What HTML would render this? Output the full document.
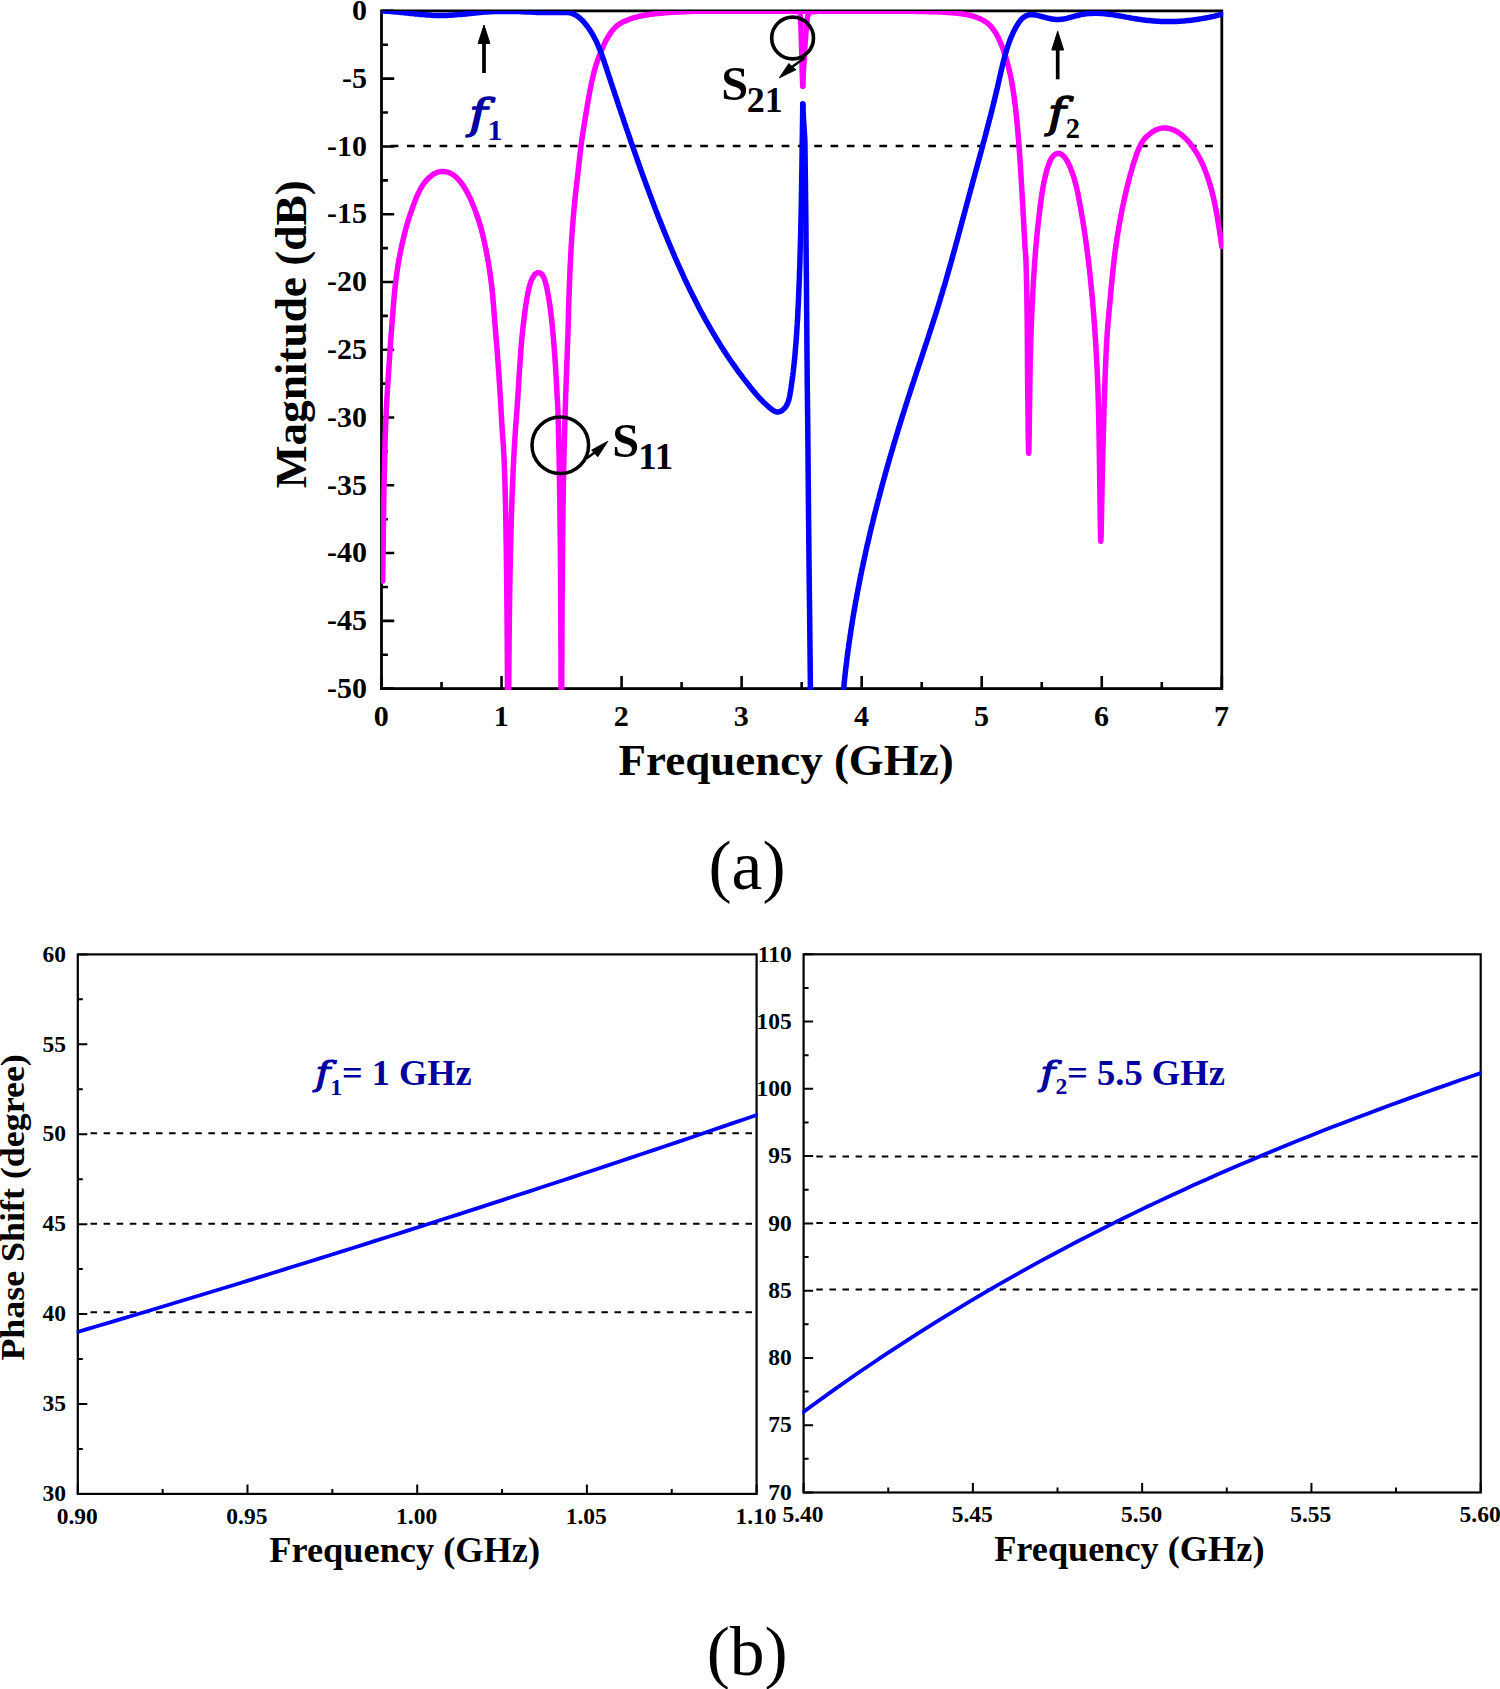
<!DOCTYPE html><html><head><meta charset="utf-8"><title>Figure</title><style>html,body{margin:0;padding:0;background:#fff}svg{display:block}</style></head><body><svg width="1500" height="1689" viewBox="0 0 1500 1689" role="img" aria-label="S-parameter magnitude and phase shift plots">
<defs>
<clipPath id="c1"><rect x="381.0" y="10.9" width="842.1999999999999" height="679.1"/></clipPath>
<clipPath id="c2"><rect x="76.7" y="954.4" width="681.0000000000001" height="539.5000000000001"/></clipPath>
<clipPath id="c3"><rect x="802.3000000000001" y="954.3" width="679.3000000000001" height="538.2"/></clipPath>
</defs>
<rect width="1500" height="1689" fill="#fff"/>
<g stroke="#000" fill="none">
<rect x="381.5" y="10.9" width="840.3" height="677.7" stroke-width="2.8"/>
<path d="M381.5 10.90h12.7M381.5 44.79h6.4M381.5 78.67h12.7M381.5 112.56h6.4M381.5 146.44h12.7M381.5 180.33h6.4M381.5 214.21h12.7M381.5 248.10h6.4M381.5 281.98h12.7M381.5 315.87h6.4M381.5 349.75h12.7M381.5 383.63h6.4M381.5 417.52h12.7M381.5 451.40h6.4M381.5 485.29h12.7M381.5 519.18h6.4M381.5 553.06h12.7M381.5 586.95h6.4M381.5 620.83h12.7M381.5 654.72h6.4M381.5 688.60h12.7M381.50 688.6v-12.5M441.52 688.6v-6.5M501.54 688.6v-12.5M561.56 688.6v-6.5M621.59 688.6v-12.5M681.61 688.6v-6.5M741.63 688.6v-12.5M801.65 688.6v-6.5M861.67 688.6v-12.5M921.69 688.6v-6.5M981.71 688.6v-12.5M1041.74 688.6v-6.5M1101.76 688.6v-12.5M1161.78 688.6v-6.5M1221.80 688.6v-12.5" stroke-width="2.6"/>
</g>
<path d="M390.7 146H1214" stroke="#000" stroke-width="2.6" stroke-dasharray="7.7 8.59" fill="none"/>
<g clip-path="url(#c1)" fill="none" stroke-width="5.5" stroke-linejoin="round" stroke-linecap="round">
<path d="M382.70 580.95L383.90 491.91L385.10 440.92L386.30 408.80L387.50 388.97L388.70 370.52L389.90 352.16L391.10 335.15L392.30 319.65L393.50 304.25L394.70 290.43L395.91 279.76L397.11 271.02L398.31 263.38L399.51 256.62L400.71 250.52L401.91 244.88L403.11 239.53L404.31 234.49L405.51 229.84L406.71 225.51L407.91 221.46L409.11 217.64L410.31 214.01L411.51 210.53L412.71 207.16L413.91 203.91L415.11 200.79L416.31 197.81L417.51 195.01L418.71 192.39L419.91 189.98L421.11 187.80L422.31 185.83L423.51 184.04L424.72 182.42L425.92 180.94L427.12 179.59L428.32 178.37L429.52 177.25L430.72 176.23L431.92 175.30L433.12 174.47L434.32 173.75L435.52 173.13L436.72 172.62L437.92 172.20L439.12 171.87L440.32 171.64L441.52 171.50L442.72 171.45L443.92 171.49L445.12 171.62L446.32 171.84L447.52 172.14L448.72 172.53L449.92 173.02L451.12 173.61L452.33 174.29L453.53 175.09L454.73 175.99L455.93 177.00L457.13 178.12L458.33 179.37L459.53 180.74L460.73 182.23L461.93 183.84L463.13 185.57L464.33 187.43L465.53 189.40L466.73 191.51L467.93 193.75L469.13 196.14L470.33 198.68L471.53 201.37L472.73 204.21L473.93 207.20L475.13 210.36L476.33 213.61L477.53 216.98L478.73 220.54L479.94 224.38L481.14 228.58L482.34 233.21L483.54 238.34L484.74 243.74L485.94 249.48L487.14 255.68L488.34 262.48L489.54 270.03L490.74 278.48L491.94 288.06L493.14 300.68L494.34 315.70L495.54 331.17L496.74 345.74L497.94 361.21L499.14 378.21L500.34 397.16L501.54 418.64L501.66 420.75L501.78 422.77L501.90 424.71L502.02 426.59L502.14 428.42L502.26 430.20L502.38 431.94L502.50 433.66L502.62 435.37L502.74 437.08L502.86 438.79L502.98 440.53L503.10 442.30L503.22 444.11L503.34 445.97L503.46 447.91L503.58 449.92L503.70 452.03L503.82 454.25L503.94 456.58L504.06 459.05L504.18 461.67L504.30 464.46L504.42 467.42L504.54 470.58L504.66 473.95L504.78 477.55L504.90 481.40L505.02 485.53L505.14 489.95L505.26 494.68L505.38 499.76L505.50 505.20L505.62 511.00L505.74 517.14L505.86 523.65L505.98 530.56L506.10 537.91L506.22 545.73L506.34 554.10L506.46 563.06L506.58 572.71L506.70 583.14L506.82 594.49L506.94 606.93L507.06 620.68L507.18 636.06L507.30 653.51L507.42 673.71L507.54 697.72L507.67 727.39L507.79 766.41L507.91 823.94L508.03 937.66L508.15 959.68L508.27 846.50L508.39 783.28L508.51 743.02L508.63 713.56L508.75 690.42L508.87 671.42L508.99 655.34L509.11 641.45L509.23 629.23L509.35 618.35L509.47 608.56L509.59 599.66L509.71 591.52L509.83 584.01L509.95 577.05L510.07 570.56L510.19 564.48L510.31 558.76L510.43 553.36L510.55 548.23L510.67 543.35L510.79 538.68L510.91 534.20L511.03 529.90L511.15 525.74L511.27 521.71L511.39 517.80L511.51 513.98L511.63 510.26L511.75 506.61L511.87 503.03L511.99 499.56L512.11 496.20L512.23 492.95L512.35 489.79L512.47 486.72L512.59 483.75L512.71 480.85L512.83 478.03L512.95 475.29L513.07 472.61L513.19 470.01L513.31 467.46L513.43 464.98L513.55 462.56L513.67 460.19L513.79 457.87L513.91 455.61L514.03 453.39L514.15 451.22L514.27 449.09L514.39 447.01L514.51 444.97L514.63 442.97L514.75 441.01L514.87 439.08L514.99 437.19L515.11 435.34L515.23 433.52L515.35 431.73L515.47 429.97L515.59 428.24L515.71 426.54L515.83 424.87L515.95 423.23L517.15 407.27L518.35 389.00L519.55 369.79L520.75 351.85L521.95 337.50L523.15 326.14L524.35 315.97L525.55 306.97L526.75 299.17L527.95 292.60L529.15 287.29L530.35 283.18L531.55 279.91L532.75 277.36L533.95 275.45L535.15 274.09L536.36 273.22L537.56 272.75L538.76 272.62L539.96 272.85L541.16 273.56L542.36 274.89L543.56 276.99L544.76 280.02L545.96 284.16L547.16 289.52L548.36 295.92L549.56 303.48L549.68 304.31L549.80 305.15L549.92 306.00L550.04 306.86L550.16 307.74L550.28 308.64L550.40 309.55L550.52 310.47L550.64 311.41L550.76 312.37L550.88 313.34L551.00 314.32L551.12 315.33L551.24 316.34L551.36 317.38L551.48 318.43L551.60 319.51L551.72 320.60L551.84 321.70L551.96 322.83L552.08 323.98L552.20 325.14L552.32 326.33L552.44 327.54L552.56 328.77L552.68 330.02L552.80 331.29L552.92 332.59L553.04 333.91L553.16 335.25L553.28 336.62L553.40 338.02L553.52 339.43L553.64 340.87L553.76 342.33L553.88 343.82L554.00 345.32L554.12 346.85L554.24 348.41L554.36 349.99L554.48 351.59L554.60 353.23L554.72 354.89L554.84 356.59L554.96 358.32L555.08 360.08L555.20 361.87L555.32 363.70L555.44 365.57L555.56 367.48L555.68 369.43L555.80 371.42L555.92 373.46L556.04 375.55L556.16 377.69L556.28 379.88L556.40 382.12L556.52 384.43L556.64 386.79L556.76 389.23L556.88 391.64L557.00 393.82L557.12 395.81L557.24 397.71L557.36 399.60L557.48 401.56L557.60 403.68L557.72 406.04L557.84 408.73L557.96 411.83L558.08 415.44L558.20 419.49L558.32 423.74L558.44 428.22L558.56 432.92L558.68 437.88L558.80 443.10L558.92 448.61L559.04 454.42L559.16 460.58L559.28 467.10L559.40 474.04L559.52 481.42L559.64 489.32L559.76 497.80L559.88 506.93L560.00 516.83L560.12 527.62L560.24 539.48L560.36 552.64L560.48 567.40L560.60 584.22L560.72 603.76L560.84 627.09L560.96 656.05L561.08 694.31L561.20 750.94L561.32 863.05L561.44 926.80L561.56 772.72L561.68 708.52L561.80 667.44L561.92 637.22L562.04 613.34L562.16 593.61L562.28 576.83L562.40 562.23L562.52 549.32L562.64 537.75L562.76 527.28L562.88 517.71L563.00 508.91L563.12 500.76L563.24 493.17L563.36 486.06L563.48 479.39L563.61 473.09L563.73 467.12L563.85 461.44L563.97 456.04L564.09 450.87L564.21 445.91L564.33 441.15L564.45 436.56L564.57 432.13L564.69 427.85L564.81 423.69L564.93 419.65L565.05 415.72L565.17 411.88L565.29 408.13L565.41 404.46L565.53 400.86L565.65 397.32L565.77 393.83L565.89 390.40L566.01 387.00L566.13 383.62L566.25 380.26L566.37 376.90L566.49 373.56L566.61 370.24L566.73 366.93L566.85 363.63L566.97 360.35L567.09 357.08L567.21 353.83L567.33 350.59L567.45 347.37L567.57 344.17L567.69 340.99L567.81 337.83L567.93 334.40L568.05 330.54L568.17 326.33L568.29 321.86L568.41 317.22L568.53 312.50L568.65 307.78L568.77 303.15L569.97 270.67L571.17 246.81L572.37 228.41L573.57 214.05L574.77 201.23L575.97 190.07L577.17 179.61L578.37 169.38L579.57 158.38L580.77 147.81L581.97 138.90L583.17 130.99L584.37 123.59L585.57 116.25L586.77 108.91L587.97 101.83L589.17 95.02L590.37 88.57L591.58 82.65L592.78 77.23L593.98 72.20L595.18 67.70L596.38 63.83L597.58 60.28L598.78 57.04L599.98 54.12L601.18 51.27L602.38 48.42L603.58 45.63L604.78 42.97L605.98 40.50L607.18 38.26L608.38 36.26L609.58 34.42L610.78 32.69L611.98 31.10L613.18 29.64L614.38 28.29L615.58 27.05L616.78 25.95L617.98 24.99L619.18 24.14L620.39 23.35L621.59 22.65L622.79 22.03L623.99 21.46L625.19 20.94L626.39 20.43L627.59 19.93L628.79 19.46L629.99 19.01L631.19 18.59L632.39 18.19L633.59 17.82L634.79 17.48L635.99 17.17L637.19 16.87L638.39 16.58L639.59 16.30L640.79 16.01L641.99 15.75L643.19 15.51L644.39 15.28L645.59 15.08L646.79 14.88L648.00 14.70L649.20 14.53L650.40 14.37L651.60 14.21L652.80 14.06L654.00 13.91L655.20 13.77L656.40 13.64L657.60 13.51L658.80 13.39L660.00 13.27L661.20 13.15L662.40 13.04L663.60 12.93L664.80 12.82L666.00 12.71L667.20 12.62L668.40 12.53L669.60 12.45L670.80 12.37L672.00 12.30L673.20 12.23L674.40 12.17L675.61 12.11L676.81 12.05L678.01 12.00L679.21 11.94L680.41 11.88L681.61 11.82L682.81 11.76L684.01 11.69L685.21 11.63L686.41 11.58L687.61 11.52L688.81 11.47L690.01 11.43L691.21 11.39L692.41 11.37L693.61 11.35L694.81 11.35L696.01 11.35L697.21 11.35L698.41 11.35L699.61 11.35L700.81 11.35L702.01 11.35L703.21 11.35L704.42 11.35L705.62 11.35L706.82 11.35L708.02 11.35L709.22 11.35L710.42 11.35L711.62 11.35L712.82 11.35L714.02 11.35L715.22 11.35L716.42 11.35L717.62 11.35L718.82 11.35L720.02 11.35L721.22 11.35L722.42 11.35L723.62 11.35L724.82 11.35L726.02 11.35L727.22 11.35L728.42 11.35L729.62 11.35L730.82 11.35L732.03 11.35L733.23 11.35L734.43 11.35L735.63 11.35L736.83 11.35L738.03 11.35L739.23 11.35L740.43 11.35L741.63 11.35L742.83 11.35L744.03 11.35L745.23 11.35L746.43 11.35L747.63 11.35L748.83 11.35L750.03 11.35L751.23 11.35L752.43 11.35L753.63 11.35L754.83 11.35L756.03 11.35L757.23 11.35L758.43 11.35L759.63 11.35L760.84 11.35L762.04 11.35L763.24 11.35L764.44 11.35L765.64 11.35L766.84 11.35L768.04 11.35L769.24 11.35L770.44 11.35L771.64 11.35L772.84 11.35L774.04 11.35L775.24 11.35L776.44 11.35L777.64 11.35L778.84 11.35L780.04 11.35L781.24 11.35L782.44 11.35L783.64 11.35L784.84 11.35L786.04 11.35L787.24 11.35L788.45 11.35L789.65 11.35L790.85 11.35L792.05 11.35L793.25 11.35L794.45 11.35L795.65 11.35L796.85 11.35L798.05 11.35L799.25 11.35L800.45 11.35L801.65 11.35L802.85 11.35L804.05 11.35L805.25 11.35L806.45 11.35L807.65 11.35L808.85 11.35L810.05 11.35L811.25 11.35L812.45 11.35L813.65 11.35L814.85 11.35L816.06 11.35L817.26 11.35L818.46 11.35L819.66 11.35L820.86 11.35L822.06 11.35L823.26 11.35L824.46 11.35L825.66 11.36L826.86 11.35L828.06 11.35L829.26 11.35L830.46 11.36L831.66 11.36L832.86 11.35L834.06 11.34L835.26 11.33L836.46 11.33L837.66 11.33L838.86 11.35L840.06 11.36L841.26 11.36L842.46 11.35L843.66 11.35L844.87 11.35L846.07 11.35L847.27 11.35L848.47 11.35L849.67 11.35L850.87 11.35L852.07 11.35L853.27 11.35L854.47 11.35L855.67 11.35L856.87 11.35L858.07 11.35L859.27 11.35L860.47 11.35L861.67 11.35L862.87 11.35L864.07 11.35L865.27 11.35L866.47 11.35L867.67 11.35L868.87 11.35L870.07 11.35L871.27 11.35L872.48 11.35L873.68 11.35L874.88 11.35L876.08 11.35L877.28 11.35L878.48 11.35L879.68 11.35L880.88 11.35L882.08 11.35L883.28 11.35L884.48 11.35L885.68 11.35L886.88 11.35L888.08 11.35L889.28 11.35L890.48 11.35L891.68 11.35L892.88 11.35L894.08 11.35L895.28 11.35L896.48 11.35L897.68 11.35L898.88 11.35L900.09 11.35L901.29 11.35L902.49 11.35L903.69 11.35L904.89 11.35L906.09 11.35L907.29 11.36L908.49 11.36L909.69 11.36L910.89 11.35L912.09 11.34L913.29 11.35L914.49 11.36L915.69 11.38L916.89 11.41L918.09 11.43L919.29 11.47L920.49 11.50L921.69 11.53L922.89 11.56L924.09 11.58L925.29 11.60L926.49 11.62L927.69 11.64L928.90 11.66L930.10 11.68L931.30 11.71L932.50 11.73L933.70 11.76L934.90 11.79L936.10 11.83L937.30 11.87L938.50 11.92L939.70 11.97L940.90 12.03L942.10 12.10L943.30 12.18L944.50 12.26L945.70 12.35L946.90 12.44L948.10 12.53L949.30 12.61L950.50 12.69L951.70 12.77L952.90 12.86L954.10 12.95L955.30 13.05L956.51 13.16L957.71 13.28L958.91 13.42L960.11 13.57L961.31 13.75L962.51 13.93L963.71 14.12L964.91 14.31L966.11 14.52L967.31 14.75L968.51 14.99L969.71 15.26L970.91 15.55L972.11 15.87L973.31 16.22L974.51 16.61L975.71 17.04L976.91 17.51L978.11 18.02L979.31 18.54L980.51 19.07L981.71 19.62L982.91 20.21L984.12 20.86L985.32 21.59L986.52 22.42L987.72 23.36L988.92 24.43L990.12 25.64L991.32 26.95L992.52 28.39L993.72 29.97L994.92 31.71L996.12 33.64L997.32 35.79L998.52 38.16L999.72 40.76L1000.92 43.56L1002.12 46.57L1003.32 49.79L1004.52 53.23L1005.72 56.97L1006.92 61.07L1008.12 65.59L1009.32 70.48L1010.52 75.73L1011.72 81.72L1012.93 88.84L1014.13 97.10L1015.33 106.40L1016.53 117.54L1017.73 130.59L1018.93 145.07L1020.13 161.80L1021.33 181.12L1022.53 201.95L1023.73 223.25L1024.93 245.37L1025.05 246.86L1025.17 248.30L1025.29 249.76L1025.41 251.29L1025.53 252.96L1025.65 254.82L1025.77 256.94L1025.89 259.39L1026.01 262.22L1026.13 265.50L1026.25 269.31L1026.37 273.70L1026.49 278.75L1026.61 284.53L1026.73 291.01L1026.85 298.16L1026.97 306.01L1027.09 314.59L1027.21 323.93L1027.33 334.73L1027.45 356.39L1027.57 377.68L1027.69 388.05L1027.81 397.96L1027.93 408.01L1028.05 418.03L1028.17 427.73L1028.29 436.70L1028.41 444.34L1028.53 449.98L1028.65 452.95L1028.70 453.30L1028.77 452.89L1028.89 449.84L1029.01 444.28L1029.13 436.89L1029.25 428.36L1029.37 419.29L1029.49 410.09L1029.61 401.03L1029.73 392.28L1029.85 383.94L1029.97 376.13L1030.09 369.14L1030.21 362.91L1030.33 357.36L1030.45 352.39L1030.57 347.90L1030.69 343.80L1030.81 339.99L1030.93 336.37L1031.05 332.85L1031.17 329.33L1031.29 325.83L1031.41 322.52L1031.53 319.40L1031.65 316.44L1031.77 313.63L1031.89 310.94L1032.01 308.37L1032.13 305.88L1033.33 283.40L1034.53 264.43L1035.73 248.69L1036.93 235.61L1038.13 224.20L1039.33 213.55L1040.54 203.80L1041.74 195.09L1042.94 187.59L1044.14 181.25L1045.34 175.79L1046.54 171.10L1047.74 167.08L1048.94 163.67L1050.14 160.84L1051.34 158.56L1052.54 156.78L1053.74 155.42L1054.94 154.45L1056.14 153.81L1057.34 153.46L1058.54 153.38L1059.74 153.58L1060.94 154.06L1062.14 154.81L1063.34 155.85L1064.54 157.18L1065.74 158.79L1066.94 160.69L1068.15 162.89L1069.35 165.38L1070.55 168.13L1071.75 171.20L1072.95 174.62L1074.15 178.43L1075.35 182.69L1076.55 187.46L1077.75 192.93L1078.95 199.00L1080.15 205.53L1081.35 212.37L1082.55 219.40L1083.75 226.81L1084.95 234.79L1086.15 243.26L1087.35 252.17L1088.55 261.65L1089.75 272.24L1090.95 283.93L1092.15 296.78L1093.35 310.50L1094.55 325.68L1095.76 344.22L1096.96 365.55L1097.08 368.07L1097.20 370.71L1097.32 373.49L1097.44 376.41L1097.56 379.51L1097.68 382.76L1097.80 386.06L1097.92 389.45L1098.04 392.99L1098.16 396.72L1098.28 400.71L1098.40 405.01L1098.52 409.67L1098.64 414.74L1098.76 420.29L1098.88 426.32L1099.00 432.79L1099.12 439.70L1099.24 447.07L1099.36 454.87L1099.48 463.08L1099.60 471.69L1099.72 480.62L1099.84 489.80L1099.96 499.07L1100.08 508.24L1100.20 517.03L1100.32 525.05L1100.44 531.88L1100.56 537.06L1100.68 540.24L1100.70 540.60L1100.80 541.23L1100.92 540.11L1101.04 537.15L1101.16 532.77L1101.28 527.40L1101.40 521.42L1101.52 515.13L1101.64 508.74L1101.76 502.41L1101.88 496.21L1102.00 490.20L1102.12 484.40L1102.24 478.82L1102.36 473.45L1102.48 468.27L1102.60 463.27L1102.72 458.43L1102.84 453.72L1102.96 449.12L1103.08 444.61L1103.20 440.17L1103.32 435.77L1103.44 431.40L1103.56 427.03L1103.68 422.65L1103.80 418.25L1103.92 413.94L1104.04 409.76L1104.16 405.68L1104.28 401.71L1104.40 397.85L1104.52 394.08L1104.64 390.41L1104.76 386.83L1104.88 383.34L1105.00 379.94L1105.12 376.61L1105.24 373.37L1105.36 370.21L1106.56 343.22L1107.76 325.50L1108.96 312.53L1110.16 299.52L1111.36 286.26L1112.56 273.91L1113.76 262.66L1114.96 252.77L1116.16 244.03L1117.36 236.13L1118.56 228.87L1119.76 222.05L1120.96 215.53L1122.16 209.33L1123.36 203.43L1124.57 197.84L1125.77 192.54L1126.97 187.53L1128.17 182.74L1129.37 178.12L1130.57 173.66L1131.77 169.39L1132.97 165.31L1134.17 161.43L1135.37 157.77L1136.57 154.34L1137.77 151.17L1138.97 148.26L1140.17 145.65L1141.37 143.36L1142.57 141.40L1143.77 139.71L1144.97 138.26L1146.17 136.99L1147.37 135.88L1148.57 134.88L1149.77 133.94L1150.97 133.02L1152.18 132.14L1153.38 131.36L1154.58 130.66L1155.78 130.04L1156.98 129.51L1158.18 129.06L1159.38 128.69L1160.58 128.39L1161.78 128.18L1162.98 128.05L1164.18 127.99L1165.38 128.01L1166.58 128.10L1167.78 128.26L1168.98 128.48L1170.18 128.77L1171.38 129.12L1172.58 129.55L1173.78 130.04L1174.98 130.60L1176.18 131.23L1177.38 131.94L1178.58 132.71L1179.78 133.56L1180.99 134.45L1182.19 135.40L1183.39 136.40L1184.59 137.48L1185.79 138.62L1186.99 139.85L1188.19 141.17L1189.39 142.58L1190.59 144.09L1191.79 145.70L1192.99 147.41L1194.19 149.17L1195.39 150.99L1196.59 152.89L1197.79 154.89L1198.99 157.02L1200.19 159.27L1201.39 161.68L1202.59 164.25L1203.79 167.02L1204.99 169.98L1206.19 173.13L1207.39 176.46L1208.60 180.01L1209.80 183.84L1211.00 187.97L1212.20 192.47L1213.40 197.37L1214.60 202.74L1215.80 208.73L1217.00 215.30L1218.20 222.42L1219.40 230.03L1220.60 238.09L1221.80 246.55" stroke="#ff00ff"/>
<path d="M788.0 11.3C789.5 11.4 795.1 11.3 797.0 11.4C798.9 11.6 798.8 11.4 799.4 12.3C800.0 13.2 800.1 11.6 800.5 17.0C800.9 22.4 801.2 35.3 801.5 45.0C801.8 54.7 802.1 68.2 802.3 75.0C802.5 81.8 802.7 84.2 802.8 86.0" stroke="#ff00ff"/>
<path d="M802.8 86.0C802.9 84.0 802.9 81.3 803.3 74.0C803.7 66.7 804.7 49.7 805.2 42.0C805.8 34.3 806.0 32.0 806.4 28.0C806.8 24.0 807.0 20.4 807.4 18.0C807.8 15.6 808.0 14.6 808.6 13.6C809.2 12.6 809.4 12.3 811.0 11.9C812.6 11.5 816.8 11.4 818.0 11.3" stroke="#ff00ff"/>
<path d="M381.5 11.0L383.9 11.1L386.3 11.2L388.7 11.3L391.1 11.5L393.5 11.7L395.9 11.9L398.3 12.1L400.7 12.4L403.1 12.6L405.5 12.9L407.9 13.1L410.3 13.4L412.7 13.6L415.1 13.9L417.5 14.1L419.9 14.4L422.4 14.6L424.8 14.8L427.2 15.0L429.6 15.1L432.0 15.3L434.4 15.4L436.8 15.5L439.2 15.5L441.6 15.5L444.0 15.5L446.4 15.4L448.8 15.3L451.2 15.2L453.6 15.0L456.0 14.8L458.4 14.6L460.8 14.4L463.2 14.2L465.6 13.9L468.0 13.7L470.4 13.4L472.8 13.2L475.2 12.9L477.6 12.7L480.0 12.5L482.4 12.3L484.8 12.1L487.2 11.9L489.6 11.8L492.1 11.7L494.5 11.6L496.9 11.5L499.3 11.4L501.7 11.4L504.1 11.4L506.5 11.4L508.9 11.4L511.3 11.5L513.8 11.5L516.2 11.6L518.6 11.6L521.0 11.7L523.4 11.8L525.7 11.9L528.1 12.0L530.5 12.1L532.9 12.2L535.3 12.3L537.7 12.4L540.1 12.4L542.5 12.5L544.9 12.6L547.3 12.6L549.7 12.6L552.2 12.6L554.6 12.6L557.1 12.6L559.6 12.5L562.1 12.4L564.6 12.3L567.1 12.4L569.4 12.7L571.7 13.4L573.9 14.2L575.9 15.3L577.9 16.6L579.7 18.0L581.5 19.6L583.2 21.3L584.8 23.2L586.3 25.1L587.8 27.0L589.2 29.0L590.5 31.0L591.8 33.0L593.0 35.1L594.1 37.2L595.2 39.3L596.3 41.4L597.3 43.6L598.2 45.8L599.2 48.0L600.1 50.3L600.9 52.5L601.8 54.8L602.6 57.1L603.4 59.3L604.2 61.6L604.9 63.9L605.7 66.2L606.5 68.5L607.2 70.8L608.0 73.1L608.7 75.4L609.5 77.7L610.3 80.0L611.0 82.3L611.8 84.6L612.5 86.9L613.3 89.2L614.1 91.5L614.8 93.8L615.6 96.1L616.4 98.4L617.1 100.7L617.9 103.0L618.6 105.3L619.4 107.6L620.2 109.8L620.9 112.1L621.7 114.4L622.5 116.7L623.3 119.0L624.0 121.3L624.8 123.6L625.6 125.8L626.3 128.1L627.1 130.4L627.9 132.7L628.7 135.0L629.5 137.2L630.2 139.5L631.0 141.8L631.8 144.1L632.6 146.3L633.4 148.6L634.2 150.9L635.0 153.2L635.8 155.4L636.6 157.7L637.4 160.0L638.2 162.2L639.0 164.5L639.8 166.8L640.6 169.0L641.4 171.3L642.2 173.6L643.0 175.8L643.8 178.1L644.7 180.4L645.5 182.6L646.3 184.9L647.2 187.1L648.0 189.4L648.8 191.6L649.7 193.9L650.5 196.2L651.4 198.4L652.2 200.7L653.1 202.9L653.9 205.2L654.8 207.4L655.6 209.7L656.5 211.9L657.4 214.2L658.2 216.4L659.1 218.7L660.0 220.9L660.9 223.1L661.8 225.4L662.7 227.6L663.6 229.9L664.5 232.1L665.4 234.3L666.3 236.6L667.2 238.8L668.1 241.0L669.1 243.3L670.0 245.5L670.9 247.7L671.9 249.9L672.8 252.2L673.8 254.4L674.7 256.6L675.7 258.8L676.6 261.0L677.6 263.2L678.6 265.4L679.6 267.6L680.6 269.8L681.6 272.0L682.6 274.2L683.6 276.4L684.6 278.6L685.6 280.8L686.7 283.0L687.7 285.2L688.8 287.3L689.8 289.5L690.9 291.7L691.9 293.8L693.0 296.0L694.1 298.1L695.2 300.3L696.3 302.4L697.4 304.6L698.5 306.7L699.6 308.9L700.7 311.0L701.9 313.1L703.0 315.2L704.2 317.3L705.3 319.5L706.5 321.6L707.7 323.7L708.9 325.8L710.1 327.8L711.3 329.9L712.5 332.0L713.7 334.1L715.0 336.1L716.2 338.2L717.4 340.3L718.7 342.3L720.0 344.4L721.3 346.4L722.6 348.4L723.9 350.5L725.2 352.5L726.5 354.5L727.8 356.5L729.2 358.5L730.5 360.5L731.9 362.5L733.3 364.4L734.7 366.4L736.1 368.4L737.5 370.3L738.9 372.3L740.3 374.2L741.8 376.2L743.2 378.1L744.7 380.0L746.2 381.9L747.7 383.8L749.2 385.7L750.7 387.6L752.2 389.5L753.7 391.4L755.3 393.2L756.9 395.1L758.5 396.9L760.1 398.7L761.8 400.4L763.5 402.2L765.3 403.8L767.1 405.5L768.9 407.1L770.8 408.7L772.7 410.1L774.7 411.3L776.6 412.0L778.6 412.0L780.5 411.4L782.3 410.3L784.0 408.8L785.6 406.9L786.9 404.8L787.9 402.5L788.7 400.2L789.3 397.9L789.8 395.5L790.2 393.0L790.6 390.6L791.0 388.2L791.3 385.8L791.7 383.3L792.0 380.9L792.3 378.5L792.7 376.1L793.0 373.7L793.3 371.3L793.5 368.9L793.8 366.5L794.1 364.1L794.3 361.6L794.6 359.2L794.8 356.8L795.0 354.4L795.2 352.0L795.4 349.6L795.6 347.2L795.8 344.8L796.0 342.4L796.2 340.0L796.4 337.6L796.5 335.2L796.7 332.8L796.8 330.4L797.0 328.0L797.1 325.6L797.3 323.2L797.4 320.9L797.6 318.5L797.7 316.1L797.8 313.7L797.9 311.3L798.0 308.9L798.2 306.5L798.3 304.1L798.4 301.7L798.5 299.3L798.6 296.8L798.7 294.4L798.8 292.0L798.9 289.6L799.0 287.2L799.1 284.8L799.2 282.4L799.3 280.0L799.4 277.6L799.4 275.2L799.5 272.8L799.6 270.4L799.7 268.0L799.8 265.6L799.9 263.2L799.9 260.7L800.0 258.3L800.1 255.9L800.1 253.5L800.2 251.1L800.3 248.7L800.3 246.3L800.4 243.9L800.5 241.5L800.5 239.0L800.6 236.6L800.7 234.2L800.7 231.8L800.8 229.4L800.8 227.0L800.9 224.6L800.9 222.1L801.0 219.7L801.0 217.3L801.1 214.9L801.1 212.5L801.2 210.1L801.2 207.7L801.3 205.3L801.3 202.8L801.4 200.4L801.4 198.0L801.4 195.6L801.5 193.2L801.5 190.8L801.6 188.4L801.6 185.9L801.6 183.5L801.7 181.1L801.7 178.7L801.7 176.3L801.8 173.9L801.8 171.5L801.9 169.0L801.9 166.6L801.9 164.2L802.0 161.8L802.0 159.4L802.0 157.0L802.1 154.6L802.1 152.2L802.1 149.8L802.2 147.3L802.2 144.9L802.2 142.5L802.3 140.1L802.3 137.7L802.3 135.3L802.4 132.9L802.4 130.5L802.4 128.1L802.5 125.7L802.5 123.3L802.6 120.9L802.6 118.5L802.6 116.0L802.7 113.6L802.7 111.2L802.7 108.8L802.8 106.4L802.8 104.0" stroke="#0000ff"/>
<path d="M802.8 104.0C802.9 107.5 803.5 118.7 803.9 125.0C804.2 131.3 804.6 132.8 804.9 142.0C805.1 151.2 805.2 166.5 805.4 180.0C805.6 193.5 805.7 209.7 805.9 223.0C806.0 236.3 806.1 250.5 806.2 260.0C806.3 269.5 806.3 266.3 806.4 280.0C806.5 293.7 806.8 325.7 806.9 342.0C807.0 358.3 807.1 363.3 807.2 378.0C807.4 392.7 807.6 409.7 807.8 430.0C808.0 450.3 808.2 476.7 808.4 500.0C808.6 523.3 808.9 548.3 809.1 570.0C809.3 591.7 809.6 610.3 809.8 630.0C810.0 649.7 810.3 676.3 810.4 688.0C810.5 699.7 810.6 698.0 810.6 700.0" stroke="#0000ff"/>
<path d="M842.6 700.0L842.8 698.1L842.9 696.3L843.1 694.5L843.3 692.7L843.4 690.9L843.6 689.1L843.8 687.2L844.0 685.4L844.1 683.6L844.3 681.8L844.5 680.0L844.7 678.2L844.9 676.4L845.1 674.5L845.3 672.7L845.5 670.9L845.7 669.1L845.9 667.3L846.2 665.5L846.4 663.7L846.6 661.9L846.8 660.1L847.0 658.2L847.3 656.4L847.5 654.6L847.7 652.8L848.0 651.0L848.2 649.2L848.5 647.4L848.7 645.6L849.0 643.8L849.2 642.0L849.5 640.2L849.8 638.4L850.0 636.6L850.3 634.8L850.6 633.0L850.8 631.2L851.1 629.4L851.4 627.6L851.7 625.8L852.0 624.0L852.3 622.2L852.5 620.4L852.8 618.6L853.1 616.8L853.4 615.0L853.7 613.2L854.0 611.4L854.4 609.6L854.7 607.8L855.0 606.0L855.3 604.2L855.6 602.4L855.9 600.6L856.3 598.8L856.6 597.0L856.9 595.2L857.3 593.4L857.6 591.6L857.9 589.9L858.3 588.1L858.6 586.3L859.0 584.5L859.3 582.7L859.7 580.9L860.0 579.1L860.4 577.3L860.7 575.5L861.1 573.8L861.5 572.0L861.8 570.2L862.2 568.4L862.6 566.6L863.0 564.8L863.3 563.0L863.7 561.3L864.1 559.5L864.5 557.7L864.9 555.9L865.3 554.1L865.6 552.4L866.0 550.6L866.4 548.8L866.8 547.0L867.2 545.2L867.6 543.5L868.1 541.7L868.5 539.9L868.9 538.1L869.3 536.3L869.7 534.6L870.1 532.8L870.5 531.0L871.0 529.2L871.4 527.5L871.8 525.7L872.3 523.9L872.7 522.2L873.1 520.4L873.6 518.6L874.0 516.8L874.4 515.1L874.9 513.3L875.3 511.5L875.8 509.8L876.2 508.0L876.7 506.2L877.1 504.5L877.6 502.7L878.0 500.9L878.5 499.2L879.0 497.4L879.4 495.6L879.9 493.9L880.4 492.1L880.8 490.3L881.3 488.6L881.8 486.8L882.2 485.0L882.7 483.3L883.2 481.5L883.7 479.8L884.2 478.0L884.7 476.2L885.1 474.5L885.6 472.7L886.1 471.0L886.6 469.2L887.1 467.5L887.6 465.7L888.1 463.9L888.6 462.2L889.1 460.4L889.6 458.7L890.1 456.9L890.6 455.2L891.1 453.4L891.7 451.7L892.2 449.9L892.7 448.2L893.2 446.4L893.7 444.7L894.2 442.9L894.8 441.2L895.3 439.4L895.8 437.7L896.3 435.9L896.9 434.2L897.4 432.4L897.9 430.7L898.4 428.9L899.0 427.2L899.5 425.5L900.1 423.7L900.6 422.0L901.1 420.2L901.7 418.5L902.2 416.7L902.8 415.0L903.3 413.3L903.9 411.5L904.4 409.8L905.0 408.0L905.5 406.3L906.1 404.6L906.6 402.8L907.2 401.1L907.7 399.4L908.3 397.6L908.9 395.9L909.4 394.2L910.0 392.4L910.5 390.7L911.1 389.0L911.7 387.2L912.2 385.5L912.8 383.8L913.4 382.0L914.0 380.3L914.5 378.6L915.1 376.8L915.7 375.1L916.2 373.4L916.8 371.7L917.4 369.9L918.0 368.2L918.5 366.5L919.1 364.7L919.7 363.0L920.3 361.3L920.8 359.5L921.4 357.8L922.0 356.1L922.6 354.4L923.1 352.6L923.7 350.9L924.3 349.2L924.8 347.4L925.4 345.7L926.0 344.0L926.6 342.3L927.1 340.5L927.7 338.8L928.3 337.1L928.8 335.3L929.4 333.6L930.0 331.9L930.5 330.1L931.1 328.4L931.6 326.7L932.2 324.9L932.8 323.2L933.3 321.5L933.9 319.7L934.4 318.0L935.0 316.3L935.5 314.5L936.1 312.8L936.6 311.1L937.2 309.3L937.7 307.6L938.3 305.8L938.8 304.1L939.3 302.4L939.9 300.6L940.4 298.9L940.9 297.1L941.4 295.4L942.0 293.6L942.5 291.9L943.0 290.1L943.5 288.4L944.0 286.7L944.6 284.9L945.1 283.2L945.6 281.4L946.1 279.7L946.6 277.9L947.1 276.1L947.6 274.4L948.1 272.6L948.6 270.9L949.1 269.1L949.6 267.4L950.1 265.6L950.6 263.9L951.1 262.1L951.6 260.3L952.1 258.6L952.5 256.8L953.0 255.1L953.5 253.3L954.0 251.6L954.5 249.8L955.0 248.0L955.4 246.3L955.9 244.5L956.4 242.8L956.9 241.0L957.4 239.2L957.8 237.5L958.3 235.7L958.8 234.0L959.3 232.2L959.7 230.4L960.2 228.7L960.7 226.9L961.2 225.1L961.6 223.4L962.1 221.6L962.6 219.9L963.1 218.1L963.5 216.3L964.0 214.6L964.5 212.8L965.0 211.0L965.4 209.3L965.9 207.5L966.4 205.8L966.8 204.0L967.3 202.2L967.8 200.5L968.3 198.7L968.7 197.0L969.2 195.2L969.7 193.4L970.2 191.7L970.6 189.9L971.1 188.2L971.6 186.4L972.1 184.6L972.6 182.9L973.0 181.1L973.5 179.4L974.0 177.6L974.5 175.9L975.0 174.1L975.4 172.3L975.9 170.6L976.4 168.8L976.9 167.1L977.3 165.3L977.8 163.6L978.3 161.8L978.8 160.0L979.3 158.3L979.7 156.5L980.2 154.8L980.7 153.0L981.2 151.2L981.6 149.5L982.1 147.7L982.6 146.0L983.0 144.2L983.5 142.4L984.0 140.7L984.5 138.9L984.9 137.2L985.4 135.4L985.9 133.6L986.3 131.9L986.8 130.1L987.2 128.3L987.7 126.6L988.2 124.8L988.6 123.1L989.1 121.3L989.5 119.5L990.0 117.8L990.4 116.0L990.9 114.2L991.3 112.4L991.8 110.7L992.2 108.9L992.7 107.1L993.1 105.4L993.5 103.6L994.0 101.8L994.4 100.0L994.8 98.3L995.3 96.5L995.7 94.7L996.1 92.9L996.5 91.1L997.0 89.4L997.4 87.6L997.8 85.8L998.2 84.0L998.6 82.2L999.0 80.4L999.4 78.7L999.8 76.9L1000.2 75.1L1000.6 73.3L1001.0 71.5L1001.4 69.7L1001.9 67.9L1002.3 66.1L1002.7 64.4L1003.1 62.6L1003.6 60.8L1004.0 59.0L1004.5 57.3L1005.0 55.5L1005.5 53.7L1006.0 52.0L1006.5 50.2L1007.0 48.5L1007.6 46.8L1008.2 45.0L1008.8 43.3L1009.4 41.6L1010.0 39.9L1010.7 38.2L1011.4 36.5L1012.2 34.8L1012.9 33.2L1013.7 31.5L1014.5 29.9L1015.4 28.2L1016.3 26.6L1017.2 25.0L1018.2 23.5L1019.2 22.0L1020.3 20.6L1021.4 19.3L1022.6 18.1L1023.9 17.1L1025.3 16.2L1026.7 15.5L1028.3 15.0L1029.9 14.7L1031.6 14.6L1033.5 14.7L1035.3 15.0L1037.2 15.3L1039.2 15.8L1041.1 16.3L1043.0 16.8L1045.0 17.3L1046.8 17.8L1048.7 18.3L1050.5 18.7L1052.3 19.1L1054.1 19.3L1055.9 19.5L1057.7 19.6L1059.5 19.5L1061.3 19.3L1063.1 19.1L1064.9 18.8L1066.7 18.4L1068.5 17.9L1070.3 17.4L1072.1 16.9L1073.9 16.4L1075.7 15.9L1077.5 15.5L1079.3 15.0L1081.1 14.6L1082.9 14.3L1084.7 14.0L1086.5 13.8L1088.3 13.6L1090.1 13.5L1091.9 13.4L1093.7 13.3L1095.5 13.3L1097.3 13.3L1099.1 13.4L1100.9 13.5L1102.8 13.6L1104.6 13.8L1106.4 14.0L1108.2 14.2L1110.0 14.4L1111.8 14.6L1113.6 14.9L1115.4 15.2L1117.2 15.5L1119.0 15.8L1120.8 16.1L1122.6 16.4L1124.4 16.7L1126.2 17.1L1128.0 17.4L1129.8 17.7L1131.6 18.1L1133.4 18.4L1135.2 18.7L1137.0 19.0L1138.8 19.3L1140.6 19.5L1142.4 19.8L1144.2 20.0L1146.0 20.3L1147.8 20.5L1149.6 20.6L1151.4 20.8L1153.2 21.0L1155.0 21.1L1156.8 21.2L1158.6 21.3L1160.4 21.4L1162.2 21.5L1164.0 21.5L1165.9 21.5L1167.7 21.6L1169.5 21.6L1171.3 21.5L1173.1 21.5L1174.9 21.4L1176.7 21.4L1178.5 21.3L1180.3 21.2L1182.1 21.1L1183.9 20.9L1185.7 20.8L1187.5 20.6L1189.3 20.4L1191.1 20.2L1192.9 20.0L1194.7 19.7L1196.5 19.5L1198.3 19.2L1200.2 18.9L1202.0 18.6L1203.8 18.3L1205.6 18.0L1207.4 17.6L1209.2 17.3L1211.0 16.9L1212.8 16.5L1214.6 16.1L1216.4 15.6L1218.2 15.2L1220.0 14.7L1221.8 14.2" stroke="#0000ff"/>
</g>
<g font-family="Liberation Serif, Times New Roman, serif" font-weight="bold" font-size="30" fill="#000">
<text x="366.9" y="20.1" text-anchor="end">0</text>
<text x="366.9" y="87.9" text-anchor="end">-5</text>
<text x="366.9" y="155.6" text-anchor="end">-10</text>
<text x="366.9" y="223.4" text-anchor="end">-15</text>
<text x="366.9" y="291.2" text-anchor="end">-20</text>
<text x="366.9" y="358.9" text-anchor="end">-25</text>
<text x="366.9" y="426.7" text-anchor="end">-30</text>
<text x="366.9" y="494.5" text-anchor="end">-35</text>
<text x="366.9" y="562.3" text-anchor="end">-40</text>
<text x="366.9" y="630.0" text-anchor="end">-45</text>
<text x="366.9" y="697.8" text-anchor="end">-50</text>
<text x="381.2" y="725.9" text-anchor="middle">0</text>
<text x="501.2" y="725.9" text-anchor="middle">1</text>
<text x="621.3" y="725.9" text-anchor="middle">2</text>
<text x="741.3" y="725.9" text-anchor="middle">3</text>
<text x="861.4" y="725.9" text-anchor="middle">4</text>
<text x="981.4" y="725.9" text-anchor="middle">5</text>
<text x="1101.5" y="725.9" text-anchor="middle">6</text>
<text x="1221.5" y="725.9" text-anchor="middle">7</text>
</g>
<text font-family="Liberation Serif, Times New Roman, serif" font-weight="bold" font-size="44.5" x="618.6" y="774.8" textLength="335.2" lengthAdjust="spacingAndGlyphs">Frequency (GHz)</text>
<text font-family="Liberation Serif, Times New Roman, serif" font-weight="bold" font-size="44.5" transform="translate(306.3 488.3) rotate(-90)" textLength="308" lengthAdjust="spacingAndGlyphs">Magnitude (dB)</text>
<text font-family="Liberation Serif, Times New Roman, serif" font-size="69.5" x="747" y="889" text-anchor="middle">(a)</text>
<path d="M484 73V43.4" stroke="#000" stroke-width="3.7" fill="none"/><path d="M484 25L489.9 43.4H478.1Z" fill="#000" stroke="#000" stroke-width="1" stroke-linejoin="round"/>
<path d="M1057.7 79.3V50.0" stroke="#000" stroke-width="3.7" fill="none"/><path d="M1057.7 31.3L1063.6000000000001 50.0H1051.8Z" fill="#000" stroke="#000" stroke-width="1" stroke-linejoin="round"/>
<text font-family="DejaVu Serif, Liberation Serif, serif" font-style="italic" stroke-linejoin="round" font-size="40.7" transform="translate(468.9 127.9) scale(1.228 1)" fill="#0000a0" stroke="#0000a0" stroke-width="1.38">f</text>
<text font-family="Liberation Serif, Times New Roman, serif" font-weight="bold" font-size="30" x="487.5" y="140.2" fill="#0000a0">1</text>
<text font-family="DejaVu Serif, Liberation Serif, serif" font-style="italic" stroke-linejoin="round" font-size="40.1" transform="translate(1047.8 126.7) scale(1.226 1)" fill="#000" stroke="#000" stroke-width="1.36">f</text>
<text font-family="Liberation Serif, Times New Roman, serif" font-weight="bold" font-size="28.4" x="1065.8" y="138.4" fill="#000">2</text>
<circle cx="560.3" cy="445.3" r="28.3" stroke="#000" stroke-width="3.5" fill="none"/>
<path d="M586.5 458.5L596 451.5" stroke="#000" stroke-width="2.4" fill="none"/>
<path d="M607.9 441.2L591.6 450L597.8 456.8Z" fill="#000" stroke="#000" stroke-width="0.8" stroke-linejoin="round"/>
<text font-family="Liberation Serif, Times New Roman, serif" font-weight="bold" font-size="48.4" x="612.3" y="457" fill="#000">S</text>
<text font-family="Liberation Serif, Times New Roman, serif" font-weight="bold" font-size="37" x="638.2" y="469" fill="#000">11</text>
<circle cx="792.6" cy="38" r="20.9" stroke="#000" stroke-width="3.6" fill="none"/>
<path d="M804.6 57.8L792 67" stroke="#000" stroke-width="2.4" fill="none"/>
<path d="M779.2 78L796 69.7L788.8 63.5Z" fill="#000" stroke="#000" stroke-width="0.8" stroke-linejoin="round"/>
<text font-family="Liberation Serif, Times New Roman, serif" font-weight="bold" font-size="48.4" x="721.3" y="100.2" fill="#000">S</text>
<text font-family="Liberation Serif, Times New Roman, serif" font-weight="bold" font-size="36" x="746.8" y="112.4" fill="#000">21</text>
<rect x="77.8" y="954.4" width="678.8000000000001" height="539.5000000000001" stroke="#000" stroke-width="2.2" fill="none"/><path d="M77.8 954.40h9.5M77.8 999.36h5M77.8 1044.32h9.5M77.8 1089.27h5M77.8 1134.23h9.5M77.8 1179.19h5M77.8 1224.15h9.5M77.8 1269.11h5M77.8 1314.07h9.5M77.8 1359.02h5M77.8 1403.98h9.5M77.8 1448.94h5M77.8 1493.90h9.5M77.80 1493.9v-9.5M162.65 1493.9v-5M247.50 1493.9v-9.5M332.35 1493.9v-5M417.20 1493.9v-9.5M502.05 1493.9v-5M586.90 1493.9v-9.5M671.75 1493.9v-5M756.60 1493.9v-9.5" stroke="#000" stroke-width="2" fill="none"/><path d="M90.5 1133.2H756.6" stroke="#000" stroke-width="2" stroke-dasharray="6.5 6.6" fill="none"/><path d="M90.5 1223.7H756.6" stroke="#000" stroke-width="2" stroke-dasharray="6.5 6.6" fill="none"/><path d="M90.5 1312.2H756.6" stroke="#000" stroke-width="2" stroke-dasharray="6.5 6.6" fill="none"/><path d="M76.2 1332.4L87.8 1328.9L99.3 1325.5L110.9 1322.1L122.4 1318.6L134.0 1315.2L145.6 1311.7L157.1 1308.2L168.7 1304.8L180.2 1301.3L191.8 1297.8L203.4 1294.3L214.9 1290.7L226.5 1287.2L238.0 1283.7L249.6 1280.1L261.1 1276.6L272.7 1273.0L284.3 1269.4L295.8 1265.8L307.4 1262.2L318.9 1258.6L330.5 1255.0L342.1 1251.4L353.6 1247.7L365.2 1244.1L376.7 1240.4L388.3 1236.8L399.9 1233.1L411.4 1229.4L423.0 1225.7L434.5 1222.0L446.1 1218.3L457.7 1214.6L469.2 1210.9L480.8 1207.1L492.3 1203.4L503.9 1199.6L515.5 1195.8L527.0 1192.1L538.6 1188.3L550.1 1184.5L561.7 1180.7L573.3 1176.9L584.8 1173.0L596.4 1169.2L607.9 1165.4L619.5 1161.5L631.0 1157.6L642.6 1153.8L654.2 1149.9L665.7 1146.0L677.3 1142.1L688.8 1138.2L700.4 1134.2L712.0 1130.3L723.5 1126.4L735.1 1122.4L746.6 1118.5L758.2 1114.5" stroke="#0000ff" stroke-width="3.8" fill="none" clip-path="url(#c2)"/><g font-family="Liberation Serif, Times New Roman, serif" font-weight="bold" font-size="23.5" fill="#000"><text x="65.9" y="961.6" text-anchor="end">60</text><text x="65.9" y="1051.5" text-anchor="end">55</text><text x="65.9" y="1141.4" text-anchor="end">50</text><text x="65.9" y="1231.4" text-anchor="end">45</text><text x="65.9" y="1321.3" text-anchor="end">40</text><text x="65.9" y="1411.2" text-anchor="end">35</text><text x="65.9" y="1501.1" text-anchor="end">30</text><text x="77.2" y="1523.6" text-anchor="middle">0.90</text><text x="246.9" y="1523.6" text-anchor="middle">0.95</text><text x="416.6" y="1523.6" text-anchor="middle">1.00</text><text x="586.3" y="1523.6" text-anchor="middle">1.05</text><text x="756.0" y="1523.6" text-anchor="middle">1.10</text></g>
<rect x="803.6" y="954.3" width="677.1" height="538.2" stroke="#000" stroke-width="2.2" fill="none"/><path d="M803.6 954.30h9.5M803.6 987.94h5M803.6 1021.57h9.5M803.6 1055.21h5M803.6 1088.85h9.5M803.6 1122.49h5M803.6 1156.12h9.5M803.6 1189.76h5M803.6 1223.40h9.5M803.6 1257.04h5M803.6 1290.67h9.5M803.6 1324.31h5M803.6 1357.95h9.5M803.6 1391.59h5M803.6 1425.22h9.5M803.6 1458.86h5M803.6 1492.50h9.5M803.60 1492.5v-9.5M888.24 1492.5v-5M972.88 1492.5v-9.5M1057.51 1492.5v-5M1142.15 1492.5v-9.5M1226.79 1492.5v-5M1311.43 1492.5v-9.5M1396.06 1492.5v-5M1480.70 1492.5v-9.5" stroke="#000" stroke-width="2" fill="none"/><path d="M816.3000000000001 1156.4H1480.7" stroke="#000" stroke-width="2" stroke-dasharray="6.5 6.6" fill="none"/><path d="M816.3000000000001 1222.9H1480.7" stroke="#000" stroke-width="2" stroke-dasharray="6.5 6.6" fill="none"/><path d="M816.3000000000001 1289.6H1480.7" stroke="#000" stroke-width="2" stroke-dasharray="6.5 6.6" fill="none"/><path d="M801.4 1413.4L812.9 1405.0L824.5 1396.6L836.0 1388.4L847.6 1380.3L859.1 1372.3L870.6 1364.5L882.2 1356.7L893.7 1349.1L905.3 1341.6L916.8 1334.2L928.3 1326.8L939.9 1319.6L951.4 1312.6L962.9 1305.6L974.5 1298.7L986.0 1291.9L997.6 1285.2L1009.1 1278.6L1020.6 1272.1L1032.2 1265.7L1043.7 1259.4L1055.3 1253.2L1066.8 1247.1L1078.3 1241.0L1089.9 1235.1L1101.4 1229.2L1113.0 1223.4L1124.5 1217.7L1136.0 1212.1L1147.6 1206.5L1159.1 1201.1L1170.6 1195.7L1182.2 1190.4L1193.7 1185.1L1205.3 1179.9L1216.8 1174.8L1228.3 1169.8L1239.9 1164.8L1251.4 1159.9L1263.0 1155.0L1274.5 1150.2L1286.0 1145.5L1297.6 1140.8L1309.1 1136.2L1320.7 1131.6L1332.2 1127.1L1343.7 1122.7L1355.3 1118.3L1366.8 1113.9L1378.3 1109.6L1389.9 1105.3L1401.4 1101.1L1413.0 1096.9L1424.5 1092.8L1436.0 1088.6L1447.6 1084.6L1459.1 1080.5L1470.7 1076.5L1482.2 1072.6" stroke="#0000ff" stroke-width="3.8" fill="none" clip-path="url(#c3)"/><g font-family="Liberation Serif, Times New Roman, serif" font-weight="bold" font-size="23.5" fill="#000"><text x="791.7" y="961.5" text-anchor="end">110</text><text x="791.7" y="1028.8" text-anchor="end">105</text><text x="791.7" y="1096.0" text-anchor="end">100</text><text x="791.7" y="1163.3" text-anchor="end">95</text><text x="791.7" y="1230.6" text-anchor="end">90</text><text x="791.7" y="1297.9" text-anchor="end">85</text><text x="791.7" y="1365.2" text-anchor="end">80</text><text x="791.7" y="1432.4" text-anchor="end">75</text><text x="791.7" y="1499.7" text-anchor="end">70</text><text x="803.0" y="1522.2" text-anchor="middle">5.40</text><text x="972.3" y="1522.2" text-anchor="middle">5.45</text><text x="1141.6" y="1522.2" text-anchor="middle">5.50</text><text x="1310.8" y="1522.2" text-anchor="middle">5.55</text><text x="1480.1" y="1522.2" text-anchor="middle">5.60</text></g>
<text font-family="Liberation Serif, Times New Roman, serif" font-weight="bold" font-size="35.2" x="269.3" y="1562.1" textLength="270.8" lengthAdjust="spacingAndGlyphs">Frequency (GHz)</text>
<text font-family="Liberation Serif, Times New Roman, serif" font-weight="bold" font-size="35.2" x="994.2" y="1560.8" textLength="270.3" lengthAdjust="spacingAndGlyphs">Frequency (GHz)</text>
<text font-family="Liberation Serif, Times New Roman, serif" font-weight="bold" font-size="33.5" transform="translate(24.4 1360.6) rotate(-90)" textLength="306.4" lengthAdjust="spacingAndGlyphs">Phase Shift (degree)</text>
<text font-family="Liberation Serif, Times New Roman, serif" font-size="69.5" x="747.2" y="1674.7" text-anchor="middle">(b)</text>
<text font-family="DejaVu Serif, Liberation Serif, serif" font-style="italic" stroke-linejoin="round" font-size="32.7" transform="translate(315.3 1085.2) scale(1.253 1)" fill="#0000a0" stroke="#0000a0" stroke-width="1.11">f</text>
<text font-family="Liberation Serif, Times New Roman, serif" font-weight="bold" font-size="24" x="330.3" y="1095" fill="#0000a0">1</text>
<text font-family="Liberation Serif, Times New Roman, serif" font-weight="bold" font-size="36.3" x="342" y="1085" fill="#0000a0">= 1 GHz</text>
<text font-family="DejaVu Serif, Liberation Serif, serif" font-style="italic" stroke-linejoin="round" font-size="32.6" transform="translate(1040.3 1084.8) scale(1.257 1)" fill="#0000a0" stroke="#0000a0" stroke-width="1.11">f</text>
<text font-family="Liberation Serif, Times New Roman, serif" font-weight="bold" font-size="23.7" x="1055.4" y="1094" fill="#0000a0">2</text>
<text font-family="Liberation Serif, Times New Roman, serif" font-weight="bold" font-size="36.6" x="1067" y="1084.6" fill="#0000a0">= 5.5 GHz</text>
</svg></body></html>
